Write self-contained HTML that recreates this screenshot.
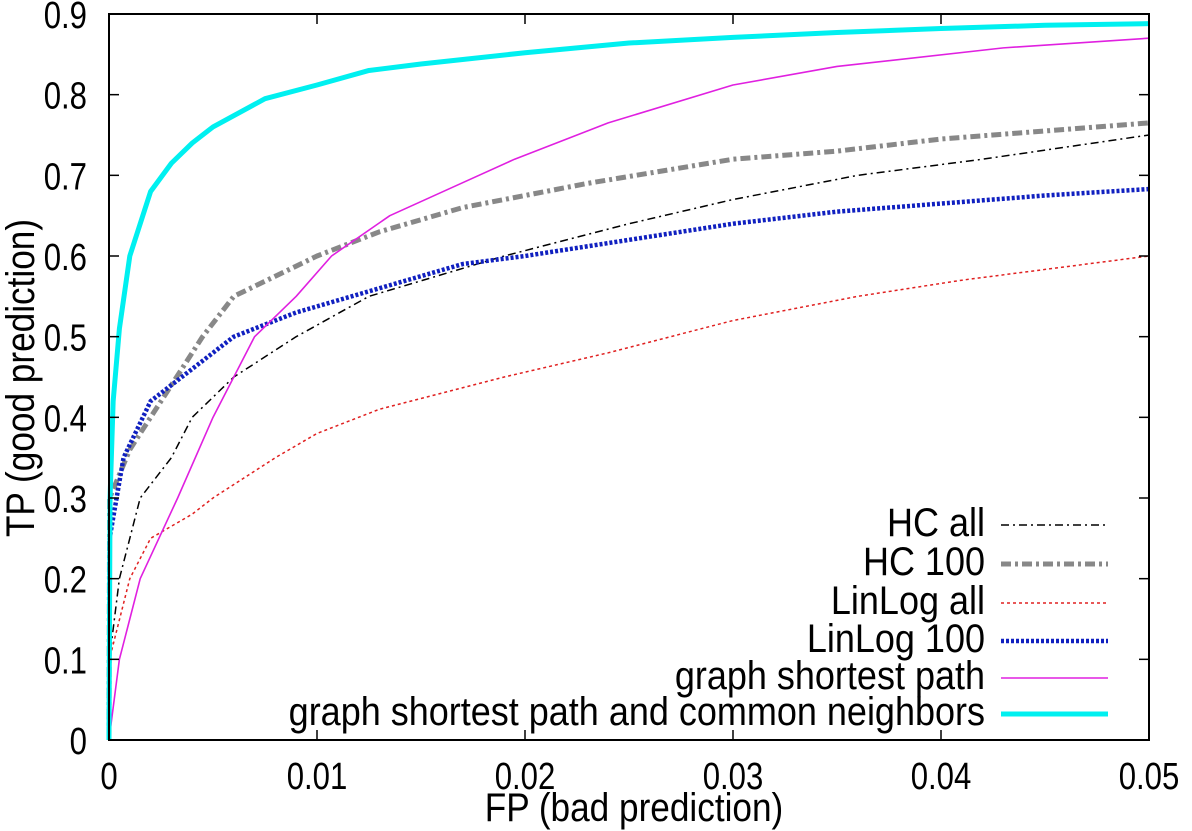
<!DOCTYPE html>
<html><head><meta charset="utf-8"><style>
html,body{margin:0;padding:0;background:#fff;}
svg{display:block;font-family:"Liberation Sans",sans-serif;}
</style></head><body>
<svg id="chart" width="1192" height="831" viewBox="0 0 1192 831" xmlns="http://www.w3.org/2000/svg">
<g id="series"></g>
<g id="axes"></g>
<g id="legend"></g>
</svg>
<script>
const xTicks = [0, 0.01, 0.02, 0.03, 0.04, 0.05];
const xTickLabels = ["0", "0.01", "0.02", "0.03", "0.04", "0.05"];
const yTicks = [0, 0.1, 0.2, 0.3, 0.4, 0.5, 0.6, 0.7, 0.8, 0.9];
const yTickLabels = ["0", "0.1", "0.2", "0.3", "0.4", "0.5", "0.6", "0.7", "0.8", "0.9"];
const seriesNames = ["HC all", "HC 100", "LinLog all", "LinLog 100", "graph shortest path", "graph shortest path and common neighbors"];
const hcAll = [[0,0],[0.00002,0.1],[0.0005,0.2],[0.0015,0.3],[0.003,0.35],[0.004,0.4],[0.006,0.45],[0.009,0.5],[0.0125,0.55],[0.019,0.6],[0.025,0.64],[0.03,0.67],[0.036,0.7],[0.042,0.72],[0.05,0.75]];
const hc100 = [[0,0],[0.00003,0.3],[0.001,0.36],[0.002,0.4],[0.0045,0.5],[0.006,0.55],[0.01,0.6],[0.013,0.63],[0.017,0.66],[0.023,0.69],[0.03,0.72],[0.035,0.73],[0.04,0.745],[0.05,0.765]];
const linlogAll = [[0,0],[0.00002,0.1],[0.001,0.2],[0.002,0.25],[0.004,0.28],[0.005,0.3],[0.008,0.35],[0.01,0.38],[0.013,0.41],[0.019,0.45],[0.024,0.48],[0.03,0.52],[0.036,0.55],[0.041,0.57],[0.05,0.6]];
const linlog100 = [[0,0],[0.00003,0.25],[0.0007,0.35],[0.002,0.42],[0.004,0.46],[0.006,0.5],[0.009,0.53],[0.013,0.56],[0.017,0.59],[0.02,0.6],[0.025,0.62],[0.03,0.64],[0.035,0.655],[0.04,0.665],[0.045,0.675],[0.05,0.683]];
const gsp = [[0,0],[0.0005,0.1],[0.0015,0.2],[0.0033,0.3],[0.005,0.4],[0.007,0.5],[0.009,0.55],[0.0107,0.6],[0.0135,0.65],[0.0165,0.685],[0.0195,0.72],[0.024,0.765],[0.03,0.812],[0.035,0.835],[0.043,0.858],[0.05,0.87]];
const gspcn = [[0,0],[0.00005,0.3],[0.0002,0.42],[0.0005,0.51],[0.001,0.6],[0.002,0.68],[0.003,0.715],[0.004,0.74],[0.005,0.76],[0.0075,0.795],[0.01,0.812],[0.0125,0.83],[0.015,0.838],[0.02,0.852],[0.025,0.864],[0.03,0.871],[0.035,0.877],[0.04,0.882],[0.045,0.886],[0.05,0.888]];

const L=109,R=1149,T=14,B=740;
const xS=v=>L+(v/0.05)*(R-L);
const yS=v=>B-(v/0.9)*(B-T);
const NS="http://www.w3.org/2000/svg";
function mk(tag,attrs,parent){const e=document.createElementNS(NS,tag);for(const k in attrs)e.setAttribute(k,attrs[k]);parent.appendChild(e);return e;}
function txt(parent,x,y,s,size,anchor,sx,rot){
  const t=mk('text',{x:0,y:0,'font-size':size,'text-anchor':anchor,transform:'translate('+x+','+y+')'+(rot?' rotate(-90)':'')+' scale('+sx+',1)'},parent);
  t.textContent=s;
  return t;
}
const axes=document.getElementById('axes');
const frame=mk('rect',{x:L,y:T,width:R-L,height:B-T,fill:'none',stroke:'#000','stroke-width':2},axes);


xTicks.forEach((v,i)=>{
  const x=xS(v);
  const t=mk('line',{x1:x,x2:x,y1:B,y2:B-10,stroke:'#000','stroke-width':1.5},axes);
  
  
  mk('line',{x1:x,x2:x,y1:T,y2:T+10,stroke:'#000','stroke-width':1.5},axes);
  const lb=txt(axes,x,789,xTickLabels[i],38,'middle',0.82);
  
  
});
yTicks.forEach((v,i)=>{
  const y=yS(v);
  const t=mk('line',{x1:L,x2:L+10,y1:y,y2:y,stroke:'#000','stroke-width':1.5},axes);
  
  
  mk('line',{x1:R,x2:R-10,y1:y,y2:y,stroke:'#000','stroke-width':1.5},axes);
  const lb=txt(axes,87,y+14,yTickLabels[i],38,'end',0.82);
  
  
});
const xt=txt(axes,634,821,'FP (bad prediction)',40,'middle',0.88);


const yt=txt(axes,34,378,'TP (good prediction)',40,'middle',0.88,true);



const styles=[
 {d:hcAll,c:'#000',w:1.5,da:'8,4,2,4',n:'hc-all'},
 {d:hc100,c:'#888',w:5,da:'10,4,3,4',n:'hc-100'},
 {d:linlogAll,c:'#e02020',w:1.5,da:'3,3',n:'linlog-all'},
 {d:linlog100,c:'#1020c0',w:4.5,da:'3,2',n:'linlog-100'},
 {d:gsp,c:'#e020e0',w:1.6,da:'',n:'graph-shortest-path'},
 {d:gspcn,c:'#00f0f0',w:5,da:'',n:'graph-shortest-path-common-neighbors'}
];
const sg=document.getElementById('series');
const lg=document.getElementById('legend');
const legY=[525,564,603,641,678,714];
styles.forEach((s,i)=>{
  const p=mk('polyline',{points:s.d.map(q=>xS(q[0])+','+yS(q[1])).join(' '),fill:'none',stroke:s.c,'stroke-width':s.w,'stroke-dasharray':s.da,'stroke-linejoin':'round'},sg);
  
  
  const g=mk('g',{},lg);
  
  
  txt(g,985,legY[i]+11,seriesNames[i],40,'end',0.9);
  mk('line',{x1:1001,x2:1108,y1:legY[i],y2:legY[i],stroke:s.c,'stroke-width':s.w,'stroke-dasharray':s.da},g);
});
</script>
</body></html>
